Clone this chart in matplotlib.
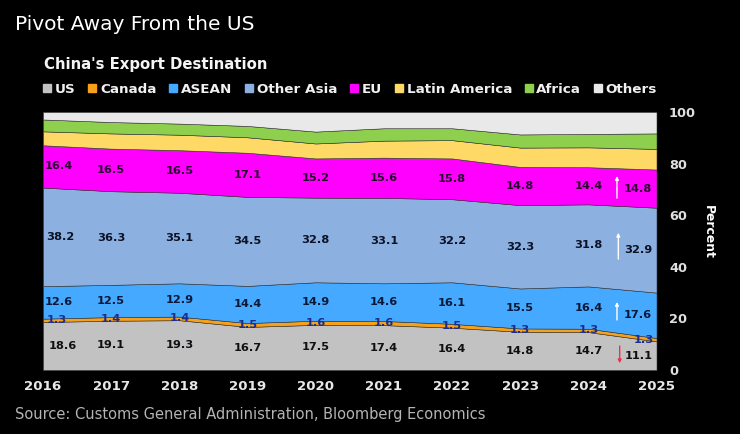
import matplotlib
matplotlib.use("Agg")
import matplotlib.pyplot as plt
from matplotlib.lines import Line2D

years = list(range(2016, 2026))
us = [18.6, 19.1, 19.3, 16.7, 17.5, 17.4, 16.4, 14.8, 14.7, 11.1]
canada = [1.3, 1.4, 1.4, 1.5, 1.6, 1.6, 1.5, 1.3, 1.3, 1.3]
asean = [12.6, 12.5, 12.9, 14.4, 14.9, 14.6, 16.1, 15.5, 16.4, 17.6]
other_asia = [38.2, 36.3, 35.1, 34.5, 32.8, 33.1, 32.2, 32.3, 31.8, 32.9]
eu = [16.4, 16.5, 16.5, 17.1, 15.2, 15.6, 15.8, 14.8, 14.4, 14.8]
latin_america = [5.4, 5.9, 6.0, 6.0, 5.8, 6.6, 7.1, 7.5, 7.7, 8.0]
africa = [4.6, 4.4, 4.3, 4.4, 4.6, 4.8, 4.6, 5.1, 5.2, 6.0]
others = [2.9, 3.9, 4.5, 5.4, 7.6, 6.3, 6.3, 8.7, 8.5, 8.3]

names = ["US", "Canada", "ASEAN", "Other Asia", "EU", "Latin America", "Africa", "Others"]
series = [us, canada, asean, other_asia, eu, latin_america, africa, others]
colors = ["#c2c2c2", "#f7a11a", "#45a9ff", "#8cb1e1", "#ff00ff", "#ffd966", "#8ed04e", "#e9e9e9"]
labelled = [0, 1, 2, 3, 4]
label_colors = ["#101014", "#1c2c8c", "#0a1838", "#0c1226", "#28062f"]
first_shift = [0.29, 0.20, 0.23, 0.26, 0.23]
last_shift = [-0.26, -0.18, -0.28, -0.26, -0.28]

W, H = 740, 434
fig = plt.figure(figsize=(W / 100, H / 100), dpi=100, facecolor="black")
ax = fig.add_axes([43 / W, 1 - 370 / H, (656.5 - 43) / W, (370 - 112) / H], facecolor="black")

ax.stackplot(years, *series, colors=colors, edgecolor="#3a3a3a", linewidth=0.4, labels=names)

bottom = [0.0] * len(years)
for i, s in enumerate(series):
    if i in labelled:
        for j, (x, v) in enumerate(zip(years, s)):
            shift = first_shift[i] if j == 0 else last_shift[i] if j == len(years) - 1 else 0
            ax.text(x + shift, bottom[j] + v / 2, f"{v:.1f}", ha="center", va="center",
                    fontsize=8.2, fontweight="bold", color=label_colors[i])
    bottom = [b + v for b, v in zip(bottom, s)]

def arrow(x, y0, y1, color):
    ax.annotate("", xy=(x, y1), xytext=(x, y0),
                arrowprops=dict(arrowstyle="-|>,head_width=0.1,head_length=0.2", color=color,
                                lw=1.0, shrinkA=0, shrinkB=0))

arrow(2024.42, 66.6, 75.2, "white")
arrow(2024.44, 43.0, 53.2, "white")
arrow(2024.42, 19.4, 26.4, "white")
arrow(2024.46, 9.3, 2.6, "#f0304a")

ax.set_xlim(2016, 2025)
ax.set_ylim(0, 100)
ax.set_xticks(years)
ax.set_yticks(range(0, 101, 20))
ax.yaxis.tick_right()
ax.yaxis.set_label_position("right")
ax.tick_params(length=0)
ax.tick_params(axis="x", pad=7, labelsize=9.6, labelcolor="#e8e8e8")
ax.tick_params(axis="y", pad=9, labelsize=9.3, labelcolor="#e0e0e0")
for t in ax.get_xticklabels() + ax.get_yticklabels():
    t.set_fontweight("bold")
ax.set_ylabel("Percent", rotation=270, color="white", fontweight="bold", fontsize=8.9, labelpad=4, y=0.535, va="bottom")
for sp in ax.spines.values():
    sp.set_visible(False)

handles = [Line2D([], [], ls="none", marker="s", ms=5.5, mfc=c, mec=c) for c in colors]
leg = fig.legend(handles, names, ncol=8, loc="upper left", bbox_to_anchor=(42 / W, 1 - 83 / H),
                 frameon=False, fontsize=9.7, handlelength=0.75, handletextpad=0.2,
                 columnspacing=0.87, borderaxespad=0, borderpad=0)
for t in leg.get_texts():
    t.set_color("#f0f0f0")
    t.set_fontweight("bold")

fig.text(15 / W, 1 - 24 / H, "Pivot Away From the US", color="white", fontsize=14.5, va="center", ha="left")
fig.text(44 / W, 1 - 65 / H, "China's Export Destination", color="#f4f4f4", fontsize=10.7,
         fontweight="bold", va="center", ha="left")
fig.text(15 / W, 1 - 415 / H, "Source: Customs General Administration, Bloomberg Economics",
         color="#b4b4b4", fontsize=10.55, va="center", ha="left")

fig.savefig("out.png", dpi=100, facecolor="black")
